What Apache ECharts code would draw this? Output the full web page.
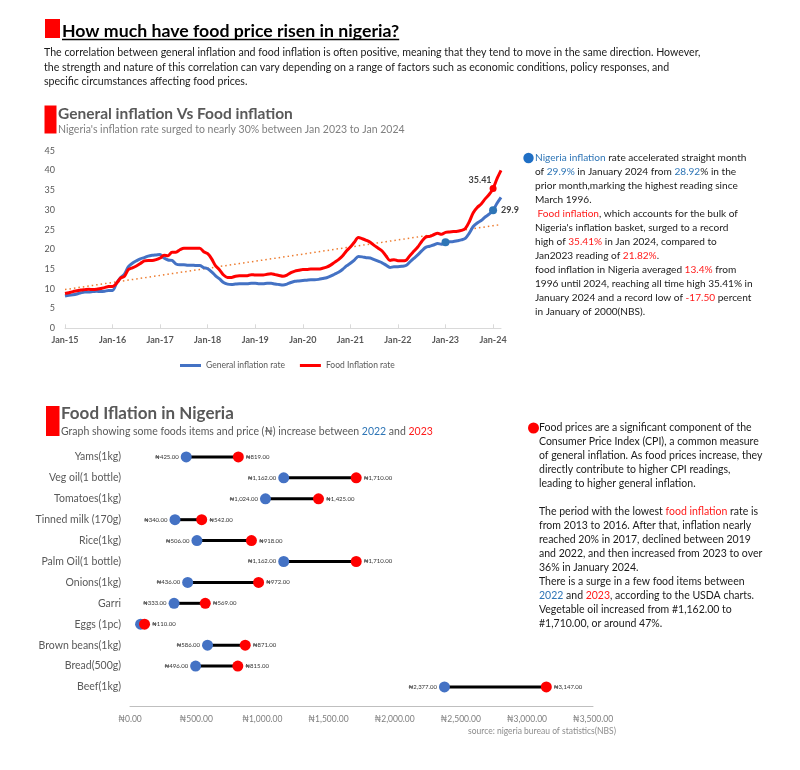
<!DOCTYPE html>
<html>
<head>
<meta charset="utf-8">
<script src="https://cdn.jsdelivr.net/npm/echarts@6/dist/echarts.min.js"></script>
<style>
html,body{margin:0;padding:0;background:#fff;}
#chart{width:800px;height:770px;}
</style>
</head>
<body>
<div id="chart"></div>
<script>
// ---------------- DATA ----------------
const years = ['15','16','17','18','19','20','21','22','23','24'];
const monthNames = ['Jan','Feb','Mar','Apr','May','Jun','Jul','Aug','Sep','Oct','Nov','Dec'];

const generalInflation = [
  8.2, 8.4, 8.5, 8.7, 9.0, 9.2, 9.2, 9.3, 9.4, 9.3, 9.4, 9.6,
  9.6, 11.4, 12.8, 13.7, 15.6, 16.5, 17.1, 17.6, 17.9, 18.3, 18.5, 18.6,
  18.7, 17.8, 17.3, 17.2, 16.3, 16.1, 16.1, 16.0, 16.0, 15.9, 15.9, 15.4,
  15.1, 14.3, 13.3, 12.5, 11.6, 11.2, 11.1, 11.2, 11.3, 11.3, 11.3, 11.4,
  11.4, 11.3, 11.3, 11.4, 11.4, 11.2, 11.1, 11.0, 11.2, 11.6, 11.9, 12.0,
  12.1, 12.2, 12.3, 12.3, 12.4, 12.6, 12.8, 13.2, 13.7, 14.2, 14.9, 15.8,
  16.5, 17.3, 18.2, 18.1, 17.9, 17.8, 17.4, 17.0, 16.6, 16.0, 15.4, 15.6,
  15.6, 15.7, 15.9, 16.8, 17.7, 18.6, 19.6, 20.5, 20.8, 21.1, 21.5, 21.3,
  21.82, 21.9, 22.0, 22.2, 22.4, 22.8, 24.1, 25.8, 26.7, 27.3, 28.2, 28.92,
  29.9, 31.7, 33.2
];
const foodInflation = [
  8.8, 9.0, 9.3, 9.5, 9.7, 9.8, 9.9, 9.8, 9.9, 10.1, 10.3, 10.6,
  10.6, 11.4, 12.7, 13.2, 14.9, 15.3, 15.8, 16.4, 17.1, 17.2, 17.2, 17.4,
  17.8, 18.5, 18.4, 19.3, 19.3, 19.9, 20.3, 20.3, 20.3, 20.3, 20.3, 19.4,
  18.9, 17.6, 15.8, 14.8, 13.5, 12.9, 12.9, 13.2, 13.3, 13.3, 13.3, 13.6,
  13.5, 13.5, 13.5, 13.7, 13.8, 13.6, 13.4, 13.2, 13.5, 14.1, 14.5, 14.7,
  14.9, 14.9, 15.0, 15.0, 15.0, 15.2, 15.5, 16.0, 16.7, 17.4, 18.3, 19.6,
  20.6, 21.8, 23.0, 22.7, 22.3, 21.8, 21.0, 20.3, 19.6, 18.3, 17.2, 17.4,
  17.1, 17.1, 17.2, 18.4, 19.5, 20.6, 22.0, 23.1, 23.3, 23.7, 24.1, 23.8,
  24.3, 24.4, 24.5, 24.6, 24.8, 25.3, 27.0, 29.3, 30.6, 31.5, 32.8, 33.9,
  35.41, 37.9, 40.0
];
// highlighted months (labels in chart)
const generalHighlights = ['Jan-23', 'Jan-24'];
const generalLabelled = ['Jan-24'];
const foodHighlights = ['Jan-24'];

const foodItems = ['Yams(1kg)', 'Veg oil(1 bottle)', 'Tomatoes(1kg)', 'Tinned milk (170g)', 'Rice(1kg)',
  'Palm Oil(1 bottle)', 'Onions(1kg)', 'Garri', 'Eggs (1pc)', 'Brown beans(1kg)', 'Bread(500g)', 'Beef(1kg)'];
const price2022 = [425, 1162, 1024, 340, 506, 1162, 436, 333, 80, 586, 496, 2377];
const price2023 = [819, 1710, 1425, 542, 918, 1710, 972, 569, 110, 871, 815, 3147];
const priceTicks = [0, 500, 1000, 1500, 2000, 2500, 3000, 3500];

// ---------------- BUILD ----------------
const months = [];
years.forEach(y => monthNames.forEach(m => months.push(m + '-' + y)));
months.length = foodInflation.length;

// linear trendline (least squares) of food inflation
const n = foodInflation.length;
let sx = 0, sy = 0, sxy = 0, sxx = 0;
foodInflation.forEach((v, i) => { sx += i; sy += v; sxy += i * v; sxx += i * i; });
const slope = (n * sxy - sx * sy) / (n * sxx - sx * sx);
const icpt = (sy - slope * sx) / n;
const trend = foodInflation.map((v, i) => +(icpt + slope * i).toFixed(3));

const BLUE = '#4472C4', RED = '#FF0000';
const FONT = 'Lato, "Open Sans", sans-serif';

const genData = generalInflation.map((v, i) => {
  if (generalHighlights.includes(months[i])) {
    return {
      value: v, symbol: 'circle', symbolSize: 8,
      itemStyle: { color: '#2E75B6' },
      label: generalLabelled.includes(months[i]) ? {
        show: true, position: 'right', distance: 4, formatter: '{c}',
        fontSize: 9, fontWeight: 'bold', color: '#404040', fontFamily: FONT
      } : { show: false }
    };
  }
  return v;
});
const foodData = foodInflation.map((v, i) => {
  if (foodHighlights.includes(months[i])) {
    return {
      value: v, symbol: 'circle', symbolSize: 7,
      itemStyle: { color: RED },
      label: { show: true, position: 'top', offset: [-13, 3], distance: 3, formatter: '{c}',
        fontSize: 9, fontWeight: 'bold', color: '#404040', fontFamily: FONT }
    };
  }
  return v;
});

const naira = v => '\u20A6' + Number(v).toLocaleString('en-US', { minimumFractionDigits: 2, maximumFractionDigits: 2 });

const baseVals = price2022.map((v, i) => Math.min(v, price2023[i]));
const gapVals = price2022.map((v, i) => Math.abs(price2023[i] - v));

const dot22 = price2022.map((v, i) => ({
  value: [v, foodItems[i]],
  label: { show: Math.abs(price2023[i] - v) > 60 }
}));
const dot23 = price2023.map((v, i) => [v, foodItems[i]]);

// ---------------- TEXT ----------------
const measure = (txt, font) => {
  const c = document.createElement('canvas').getContext('2d');
  c.font = font; return c.measureText(txt).width;
};
const TITLE = 'How much have food price risen in nigeria?';
const titleFont = 'bold 17.7px ' + FONT;
const titleW = measure(TITLE, titleFont);

const introLines = [
  'The correlation between general inflation and food inflation is often positive, meaning that they tend to move in the same direction. However,',
  'the strength and nature of this correlation can vary depending on a range of factors such as economic conditions, policy responses, and',
  'specific circumstances affecting food prices.'
];
const note1Lines = [
  '{b|Nigeria inflation} rate accelerated straight month',
  'of {b|29.9%} in January 2024 from {b|28.92}% in the',
  'prior month,marking the highest reading since',
  'March 1996.',
  ' {r|Food inflation}, which accounts for the bulk of',
  "Nigeria's inflation basket, surged to a record",
  'high of {r|35.41%} in Jan 2024, compared to',
  'Jan2023 reading of {r|21.82%}.',
  'food inflation in Nigeria averaged {r|13.4%} from',
  '1996 until 2024, reaching all time high 35.41% in',
  'January 2024 and a record low of {r|-17.50} percent',
  'in January of 2000(NBS).'
];
const note2Lines = [
  'Food prices are a significant component of the',
  'Consumer Price Index (CPI), a common measure',
  'of general inflation. As food prices increase, they',
  'directly contribute to higher CPI readings,',
  'leading to higher general inflation.',
  '',
  'The period with the lowest {r|food inflation} rate is',
  'from 2013 to 2016. After that, inflation nearly',
  'reached 20% in 2017, declined between 2019',
  'and 2022, and then increased from 2023 to over',
  '36% in January 2024.',
  'There is a surge in a few food items between',
  '{b|2022} and {r|2023}, according to the USDA charts.',
  'Vegetable oil increased from #1,162.00 to',
  '#1,710.00, or around 47%.'
];

const NOTE1_FS = 10.1, NOTE2_FS = 10.5, NOTE_LH = 14;
const richDef = (fs, lh) => ({
  b: { fill: '#2E75B6', color: '#2E75B6', fontSize: fs, lineHeight: lh, fontFamily: FONT },
  r: { fill: '#FF1A1A', color: '#FF1A1A', fontSize: fs, lineHeight: lh, fontFamily: FONT }
});

const graphic = [
  { type: 'rect', shape: { x: 45, y: 19, width: 15, height: 19 }, style: { fill: RED } },
  { type: 'text', x: 62, y: 31, style: { text: TITLE, font: titleFont, fill: '#000', verticalAlign: 'middle' } },
  { type: 'line', shape: { x1: 62, y1: 39.5, x2: 62 + titleW, y2: 39.5 }, style: { stroke: '#000', lineWidth: 1.3 } },
  { type: 'text', x: 44, y: 53 - 7.25, style: { text: introLines.join('\n'), fontSize: 10.6, fontFamily: FONT, fill: '#1a1a1a', lineHeight: 14.5, verticalAlign: 'top' } },

  { type: 'rect', shape: { x: 44.5, y: 105.5, width: 12, height: 28 }, style: { fill: RED } },
  { type: 'text', x: 58, y: 113.5, style: { text: 'General inflation Vs Food inflation', fontSize: 15.5, fontWeight: 'bold', fontFamily: FONT, fill: '#595959', verticalAlign: 'middle' } },
  { type: 'text', x: 58, y: 130, style: { text: "Nigeria's inflation rate surged to nearly 30% between Jan 2023 to Jan 2024", fontSize: 10.5, fontFamily: FONT, fill: '#7F7F7F', verticalAlign: 'middle' } },

  { type: 'circle', shape: { cx: 528.5, cy: 158, r: 5.2 }, style: { fill: '#1F6FC5' } },
  { type: 'text', x: 535, y: 158 - NOTE_LH / 2, style: { text: note1Lines.join('\n'), rich: richDef(NOTE1_FS, NOTE_LH), fontSize: NOTE1_FS, fontFamily: FONT, fill: '#1a1a1a', lineHeight: NOTE_LH, verticalAlign: 'top' } },

  { type: 'rect', shape: { x: 46, y: 406, width: 13.5, height: 30 }, style: { fill: RED } },
  { type: 'text', x: 61, y: 413.5, style: { text: 'Food Iflation in Nigeria', fontSize: 17, fontWeight: 'bold', fontFamily: FONT, fill: '#595959', verticalAlign: 'middle' } },
  { type: 'text', x: 61, y: 431.5, style: { text: 'Graph showing some foods items and price (\u20A6) increase between {b|2022} and {r|2023}', rich: richDef(10.5, 14), fontSize: 10.5, fontFamily: FONT, fill: '#595959', verticalAlign: 'middle' } },

  { type: 'circle', shape: { cx: 533.5, cy: 428, r: 5.5 }, style: { fill: RED } },
  { type: 'text', x: 539, y: 428 - NOTE_LH / 2, style: { text: note2Lines.join('\n'), rich: richDef(NOTE2_FS, NOTE_LH), fontSize: NOTE2_FS, fontFamily: FONT, fill: '#1a1a1a', lineHeight: NOTE_LH, verticalAlign: 'top' } },

  { type: 'text', x: 468, y: 731, style: { text: 'source: nigeria bureau of statistics(NBS)', fontSize: 8.5, fontFamily: FONT, fill: '#8C8C8C', verticalAlign: 'middle' } }
];

// ---------------- CHART ----------------
const chart = echarts.init(document.getElementById('chart'), null, { renderer: 'canvas' });
chart.setOption({
  animation: false,
  backgroundColor: '#fff',
  textStyle: { fontFamily: FONT },
  graphic: graphic,
  legend: {
    data: ['General inflation rate', 'Food Inflation rate'],
    left: 175, top: 356, icon: 'rect', itemWidth: 21, itemHeight: 3, itemGap: 15,
    textStyle: { fontSize: 8.5, color: '#595959', fontFamily: FONT }
  },
  grid: [
    { left: 65, right: 299, top: 150.7, bottom: 441.7 },
    { left: 130, right: 207, top: 446.5, bottom: 72.6 }
  ],
  xAxis: [
    {
      gridIndex: 0, type: 'category', data: months, boundaryGap: false,
      axisLine: { lineStyle: { color: '#D9D9D9', width: 1 } },
      axisTick: { show: true, interval: (i) => i % 12 === 0, length: 4, inside: true, lineStyle: { color: '#D9D9D9' } },
      axisLabel: { interval: (i) => i % 12 === 0, margin: 7, fontSize: 9, fontWeight: 'bold', color: '#595959', fontFamily: FONT },
      splitLine: { show: false }
    },
    {
      gridIndex: 1, type: 'value', min: priceTicks[0], max: priceTicks[priceTicks.length - 1], interval: priceTicks[1] - priceTicks[0],
      offset: 9,
      axisLine: { show: true, lineStyle: { color: '#BFBFBF' } },
      axisTick: { show: false },
      splitLine: { show: false },
      axisLabel: { formatter: v => naira(v), fontSize: 8.5, color: '#7F7F7F', margin: 8, fontFamily: FONT }
    }
  ],
  yAxis: [
    {
      gridIndex: 0, type: 'value', min: 0, max: 45, interval: 5,
      axisLine: { show: false }, axisTick: { show: false }, splitLine: { show: false },
      axisLabel: { fontSize: 9, color: '#595959', margin: 10, fontFamily: FONT }
    },
    {
      gridIndex: 1, type: 'category', data: foodItems, inverse: true,
      axisLine: { show: false }, axisTick: { show: false }, splitLine: { show: false },
      axisLabel: { fontSize: 10.5, color: '#595959', margin: 9, fontFamily: FONT }
    }
  ],
  series: [
    {
      name: 'Trend', type: 'line', xAxisIndex: 0, yAxisIndex: 0, data: trend, symbol: 'none', silent: true,
      lineStyle: { color: '#ED7D31', width: 1.5, type: [1.5, 3] }, z: 1
    },
    {
      name: 'General inflation rate', type: 'line', xAxisIndex: 0, yAxisIndex: 0, data: genData,
      symbol: 'none', showAllSymbol: true, smooth: 0.3, color: BLUE,
      lineStyle: { color: BLUE, width: 3 }, z: 3
    },
    {
      name: 'Food Inflation rate', type: 'line', xAxisIndex: 0, yAxisIndex: 0, data: foodData,
      symbol: 'none', showAllSymbol: true, smooth: 0.3, color: RED,
      lineStyle: { color: RED, width: 3 }, z: 4
    },
    {
      name: 'base', type: 'bar', xAxisIndex: 1, yAxisIndex: 1, stack: 'db', data: baseVals,
      itemStyle: { color: 'transparent' }, barWidth: 3, silent: true
    },
    {
      name: 'gap', type: 'bar', xAxisIndex: 1, yAxisIndex: 1, stack: 'db', data: gapVals,
      itemStyle: { color: '#000' }, barWidth: 3, silent: true
    },
    {
      name: '2022', type: 'scatter', xAxisIndex: 1, yAxisIndex: 1, data: dot22, symbolSize: 11,
      itemStyle: { color: BLUE, opacity: 1 }, z: 5,
      label: { show: true, position: 'left', distance: 2, formatter: p => naira(p.value[0]), fontSize: 6, color: '#333', fontFamily: FONT }
    },
    {
      name: '2023', type: 'scatter', xAxisIndex: 1, yAxisIndex: 1, data: dot23, symbolSize: 11,
      itemStyle: { color: RED, opacity: 1 }, z: 6,
      label: { show: true, position: 'right', distance: 2, formatter: p => naira(p.value[0]), fontSize: 6, color: '#333', fontFamily: FONT }
    }
  ]
});
</script>
</body>
</html>
